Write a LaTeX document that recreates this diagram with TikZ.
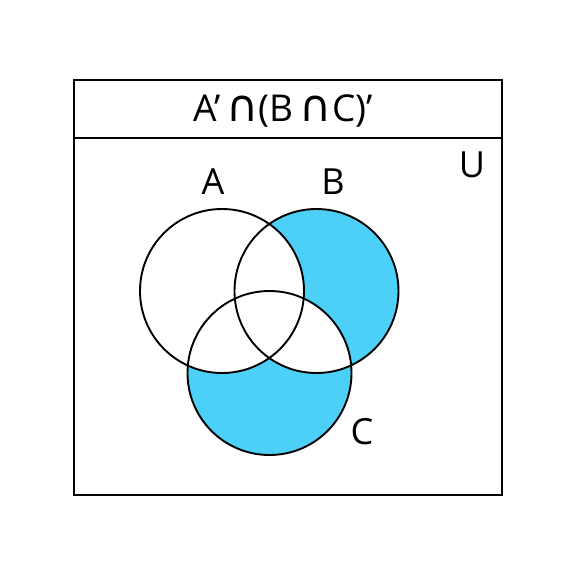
\documentclass[tikz,border=0pt]{standalone}
\usepackage{fontspec}
\setmainfont{Open Sans}
\newfontfamily\symfont{DejaVu Sans}
\definecolor{vennblue}{RGB}{77,208,248}
\newcommand{\bigcapsym}{{\symfont\fontsize{44}{44}\selectfont ∩}}
\begin{document}
\begin{tikzpicture}[x=1pt,y=-1pt,
  setc/.style={circle,draw=black,line width=1.9pt,minimum size=164pt,inner sep=0pt},
  lbl/.style={font=\fontsize{36}{40}\selectfont,inner sep=0pt},
  ttl/.style={font=\fontsize{37}{40}\selectfont,inner sep=0pt},
  frame/.style={draw=black,line width=2.2pt}]
\useasboundingbox[fill=white] (0,0) rectangle (576,576);
% shading: B only and C only
\fill[vennblue] (316.5,291) circle (82);
\fill[vennblue] (269.5,373) circle (82);
\fill[white] (222,291) circle (82);
\begin{scope}
\clip (316.5,291) circle (82);
\fill[white] (269.5,373) circle (82);
\end{scope}
% frame
\draw[frame] (74,80) rectangle (502,495);
\draw[frame] (74,138) -- (502,138);
% circles
\node[setc] (A) at (222,291) {};
\node[setc] (B) at (316.5,291) {};
\node[setc] (C) at (269.5,373) {};
% labels
\node[ttl] (title) at (283,111) {A’\,\bigcapsym(B\,\bigcapsym C)’};
\node[lbl] (la) at (213,182) {A};
\node[lbl] (lb) at (333,182) {B};
\node[lbl] (lc) at (362,432) {C};
\node[lbl] (lu) at (472,165) {U};
\end{tikzpicture}
\end{document}
